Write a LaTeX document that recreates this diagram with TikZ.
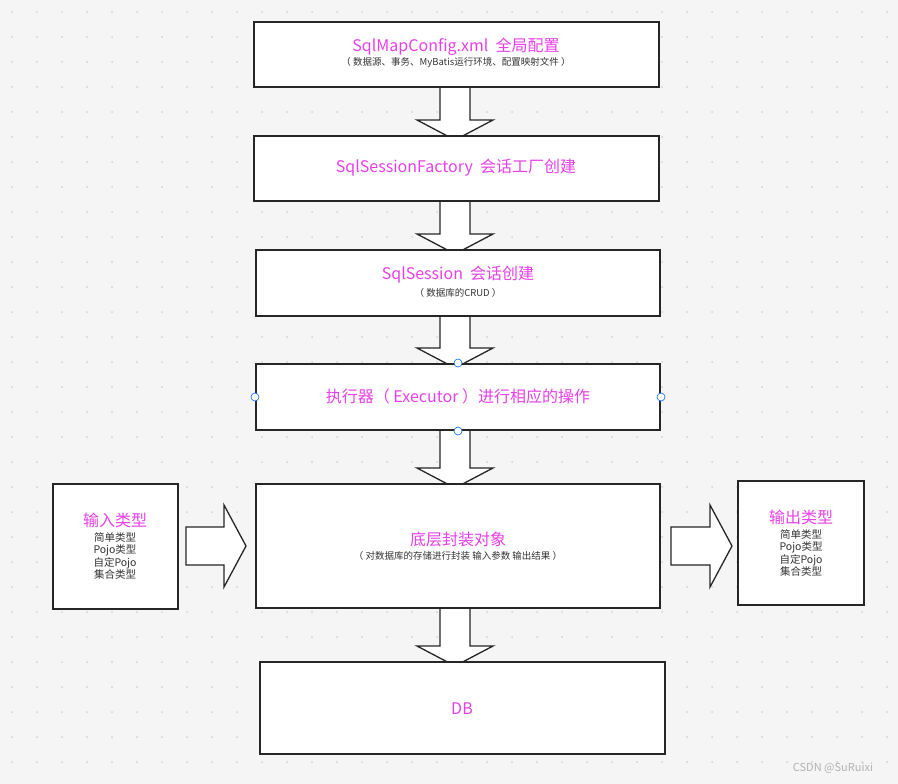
\documentclass[tikz,border=0pt]{standalone}
\usepackage{fontspec}
\setmainfont{Noto Sans CJK SC}
\definecolor{mag}{RGB}{232,64,232}
\begin{document}
\begin{tikzpicture}[x=1pt,y=-1pt,
  box/.style={draw=black!85,line width=1.6pt,fill=white},
  barrow/.style={draw=black!85,line width=1.3pt,fill=white,line join=miter},
  ttl/.style={text=mag,font=\fontsize{16}{18}\selectfont},
  sub/.style={text=black!80,font=\fontsize{9.5}{11}\selectfont},
  sub2/.style={text=black!80,font=\fontsize{10.5}{12.5}\selectfont},
  hd/.style={draw=blue!60!cyan,fill=white,line width=0.6pt,circle,inner sep=0pt,minimum size=8pt}]
\fill[gray!8] (0,0) rectangle (898,784);
\useasboundingbox (0,0) rectangle (898,784);
\foreach \i in {0,...,36}{\foreach \j in {0,...,31}{\fill[gray!35] (12+25*\i,12+25*\j) circle (1pt);}}
\newcommand\mydarr[3]{\draw[barrow] (#1-15,#2) -- (#1+15,#2) -- (#1+15,#3-20) -- (#1+38,#3-20) -- (#1,#3) -- (#1-38,#3-20) -- (#1-15,#3-20) -- cycle;}
\newcommand\myrarr[3]{\draw[barrow] (#1,#3-19) -- (#2-22,#3-19) -- (#2-22,#3-41) -- (#2,#3) -- (#2-22,#3+41) -- (#2-22,#3+19) -- (#1,#3+19) -- cycle;}
\mydarr{455}{87}{140}
\mydarr{455}{201}{254}
\mydarr{455}{316}{368}
\mydarr{455}{430}{488}
\mydarr{455}{608}{666}
\myrarr{186}{246}{546}
\myrarr{671}{732}{546}
\draw[box] (254,22) rectangle (659,87);
\node[ttl] (t1) at (456,47) {SqlMapConfig.xml\ \ 全局配置};
\node[sub] (s1) at (456,63) {（ 数据源、事务、MyBatis运行环境、配置映射文件 ）};
\draw[box] (254,136) rectangle (659,201);
\node[ttl] (t2) at (456,168) {SqlSessionFactory\ \ 会话工厂创建};
\draw[box] (256,250) rectangle (660,316);
\node[ttl] (t3) at (458,275) {SqlSession\ \ 会话创建};
\node[sub] (s3) at (458,293) {（ 数据库的CRUD ）};
\draw[box] (256,364) rectangle (660,430);
\node[ttl] (t4) at (458,396) {执行器（ Executor ）进行相应的操作};
\node[hd] (h1) at (458,363) {};
\node[hd] (h2) at (255,397) {};
\node[hd] (h3) at (661,397) {};
\node[hd] (h4) at (458,431) {};
\draw[box] (256,484) rectangle (660,608);
\node[ttl] (t5) at (458,539) {底层封装对象};
\node[sub] (s5) at (458,556) {（ 对数据库的存储进行封装 输入参数 输出结果 ）};
\draw[box] (260,662) rectangle (665,754);
\node[ttl] (t6) at (462,709) {DB};
\draw[box] (53,484) rectangle (178,609);
\node[ttl] (t7) at (115,520) {输入类型};
\node[sub2,align=center] (s7) at (115,556) {简单类型\\Pojo类型\\自定Pojo\\集合类型};
\draw[box] (738,481) rectangle (864,605);
\node[ttl] (t8) at (801,517) {输出类型};
\node[sub2,align=center] (s8) at (801,553) {简单类型\\Pojo类型\\自定Pojo\\集合类型};
\node[text=gray!60,font=\fontsize{11}{13}\selectfont] (wm) at (833,768) {CSDN @SuRuixi};
\end{tikzpicture}
\end{document}
